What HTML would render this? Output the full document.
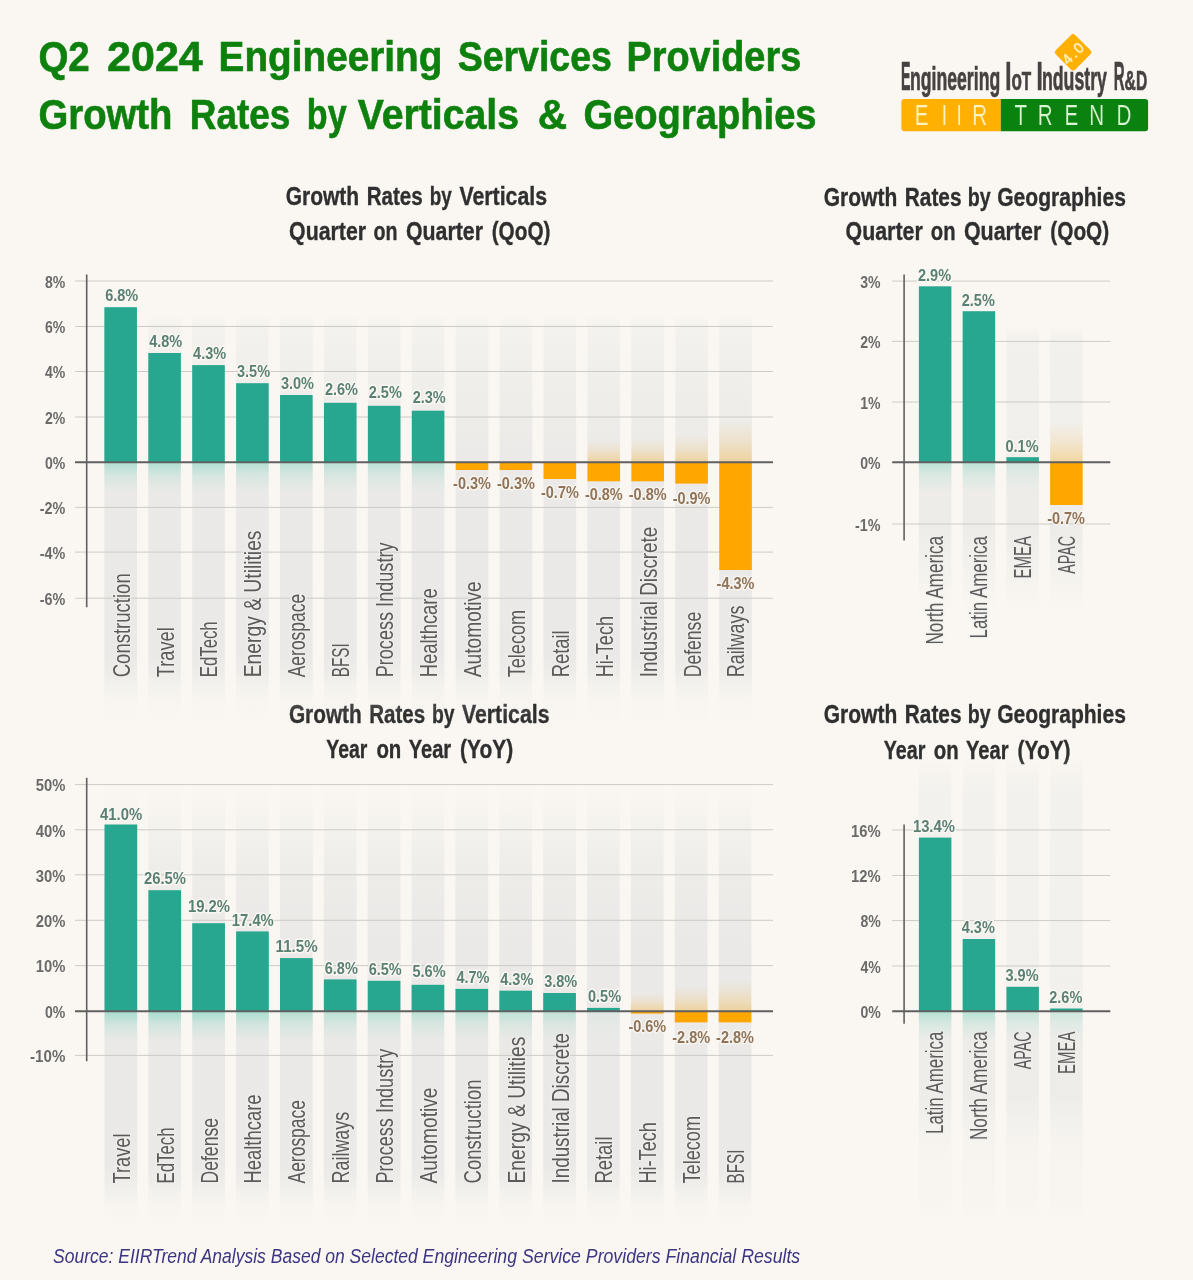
<!DOCTYPE html>
<html lang="en"><head><meta charset="utf-8"><title>Q2 2024 Engineering Services Providers Growth Rates</title>
<style>
html,body{margin:0;padding:0;background:#faf7f2;}
body{width:1193px;height:1280px;overflow:hidden;}
svg{display:block;}
text{font-family:"Liberation Sans",sans-serif;}
.tk{font-size:16px;font-weight:bold;fill:#6a6a6a;}
.vp{font-size:16px;font-weight:bold;fill:#598074;paint-order:stroke;stroke:#faf7f2;stroke-width:3px;stroke-linejoin:round;}
.vn{font-size:16px;font-weight:bold;fill:#917357;paint-order:stroke;stroke:#faf7f2;stroke-width:3px;stroke-linejoin:round;stroke-opacity:.75;}
.ct{font-size:23.7px;fill:#5a5a5a;paint-order:stroke;stroke:#efedea;stroke-width:3px;stroke-linejoin:round;stroke-opacity:.8;}
.ct2{font-size:23px;}
.ti{font-size:25px;font-weight:bold;fill:#2f2f2f;stroke:#2f2f2f;stroke-width:.35px;}
.h1{font-size:42px;font-weight:bold;fill:#0e800e;stroke:#0e800e;stroke-width:.6px;}
.src{font-size:19.5px;font-style:italic;fill:#3b3583;}
</style></head><body>
<svg width="1193" height="1280" viewBox="0 0 1193 1280">
<rect width="1193" height="1280" fill="#faf7f2"/>
<text class="h1" y="70.6"><tspan x="38.4" textLength="51.4" lengthAdjust="spacingAndGlyphs">Q2</tspan> <tspan x="107.0" textLength="95.8" lengthAdjust="spacingAndGlyphs">2024</tspan> <tspan x="218.6" textLength="223.8" lengthAdjust="spacingAndGlyphs">Engineering</tspan> <tspan x="457.7" textLength="154.2" lengthAdjust="spacingAndGlyphs">Services</tspan> <tspan x="626.5" textLength="174.7" lengthAdjust="spacingAndGlyphs">Providers</tspan></text>
<text class="h1" y="129.2"><tspan x="38.5" textLength="133.9" lengthAdjust="spacingAndGlyphs">Growth</tspan> <tspan x="189.8" textLength="100.6" lengthAdjust="spacingAndGlyphs">Rates</tspan> <tspan x="306.8" textLength="39.8" lengthAdjust="spacingAndGlyphs">by</tspan> <tspan x="357.7" textLength="161.4" lengthAdjust="spacingAndGlyphs">Verticals</tspan> <tspan x="537.7" textLength="29.4" lengthAdjust="spacingAndGlyphs">&amp;</tspan> <tspan x="583.4" textLength="233.2" lengthAdjust="spacingAndGlyphs">Geographies</tspan></text>
<g id="logo">
<path d="M904.4 99H1000.8V131.3H904.4a3 3 0 0 1-3-3V102a3 3 0 0 1 3-3z" fill="#ffb000"/>
<path d="M1000.8 99H1145.1a3 3 0 0 1 3 3V128.3a3 3 0 0 1-3 3H1000.8z" fill="#0b820f"/>
<text transform="scale(0.72 1)" x="1270.6 1307.6 1328.2 1350.4" y="125.1" font-size="28.6" fill="#fff3c4" stroke="#ffb000" stroke-width="0.2">EIIR</text>
<text transform="scale(0.72 1)" x="1409.2 1441.5 1478.5 1512.8 1550.7" y="125.1" font-size="28.6" fill="#d9f5d2" stroke="#0b820f" stroke-width="0.2">TREND</text>
<text y="89.6" font-size="40" font-weight="bold" fill="#464242" stroke="#464242" stroke-width="0.7"><tspan x="900.9" textLength="9.5" lengthAdjust="spacingAndGlyphs">E</tspan><tspan x="910" font-size="33.5" textLength="90.2" lengthAdjust="spacingAndGlyphs">ngineering</tspan> <tspan x="1005.2" textLength="6.2" lengthAdjust="spacingAndGlyphs">I</tspan><tspan x="1011.4" font-size="29" textLength="10.4" lengthAdjust="spacingAndGlyphs">o</tspan><tspan x="1021.7" font-size="25.3" textLength="9.4" lengthAdjust="spacingAndGlyphs">T</tspan> <tspan x="1036.6" textLength="6.2" lengthAdjust="spacingAndGlyphs">I</tspan><tspan x="1042" font-size="33.5" textLength="64.9" lengthAdjust="spacingAndGlyphs">ndustry</tspan> <tspan x="1113.7" textLength="10.9" lengthAdjust="spacingAndGlyphs">R</tspan><tspan x="1124.6" font-size="27.2" textLength="22.6" lengthAdjust="spacingAndGlyphs">&amp;D</tspan></text>
<rect x="-13.7" y="-13.7" width="27.4" height="27.4" rx="3.2" transform="translate(1073.1 52.3) rotate(45)" fill="#ffb000"/>
<text transform="translate(1076.6 57) rotate(-45)" text-anchor="middle" font-size="14.5" fill="#fff0c0" stroke="#fff0c0" stroke-width="0.5" textLength="24" lengthAdjust="spacing">4.0</text>
</g>
<text class="ti" y="205.3"><tspan x="285.7" textLength="73.5" lengthAdjust="spacingAndGlyphs">Growth</tspan> <tspan x="366.7" textLength="56.0" lengthAdjust="spacingAndGlyphs">Rates</tspan> <tspan x="429.8" textLength="22.0" lengthAdjust="spacingAndGlyphs">by</tspan> <tspan x="459.4" textLength="87.6" lengthAdjust="spacingAndGlyphs">Verticals</tspan></text>
<text class="ti" y="240"><tspan x="289.1" textLength="77.0" lengthAdjust="spacingAndGlyphs">Quarter</tspan> <tspan x="373.6" textLength="24.0" lengthAdjust="spacingAndGlyphs">on</tspan> <tspan x="406.0" textLength="77.0" lengthAdjust="spacingAndGlyphs">Quarter</tspan> <tspan x="491.7" textLength="58.8" lengthAdjust="spacingAndGlyphs">(QoQ)</tspan></text>
<text class="ti" y="723.2"><tspan x="288.9" textLength="72.9" lengthAdjust="spacingAndGlyphs">Growth</tspan> <tspan x="369.2" textLength="56.0" lengthAdjust="spacingAndGlyphs">Rates</tspan> <tspan x="431.9" textLength="22.6" lengthAdjust="spacingAndGlyphs">by</tspan> <tspan x="461.9" textLength="87.6" lengthAdjust="spacingAndGlyphs">Verticals</tspan></text>
<text class="ti" y="758.4"><tspan x="326.3" textLength="41.1" lengthAdjust="spacingAndGlyphs">Year</tspan> <tspan x="376.4" textLength="24.9" lengthAdjust="spacingAndGlyphs">on</tspan> <tspan x="408.7" textLength="42.5" lengthAdjust="spacingAndGlyphs">Year</tspan> <tspan x="460.1" textLength="53.0" lengthAdjust="spacingAndGlyphs">(YoY)</tspan></text>
<text class="ti" y="205.6"><tspan x="823.8" textLength="73.4" lengthAdjust="spacingAndGlyphs">Growth</tspan> <tspan x="904.8" textLength="56.7" lengthAdjust="spacingAndGlyphs">Rates</tspan> <tspan x="967.8" textLength="22.9" lengthAdjust="spacingAndGlyphs">by</tspan> <tspan x="997.2" textLength="128.7" lengthAdjust="spacingAndGlyphs">Geographies</tspan></text>
<text class="ti" y="240.3"><tspan x="845.6" textLength="77.1" lengthAdjust="spacingAndGlyphs">Quarter</tspan> <tspan x="930.8" textLength="24.7" lengthAdjust="spacingAndGlyphs">on</tspan> <tspan x="963.9" textLength="77.4" lengthAdjust="spacingAndGlyphs">Quarter</tspan> <tspan x="1050.3" textLength="58.9" lengthAdjust="spacingAndGlyphs">(QoQ)</tspan></text>
<text class="ti" y="723.2"><tspan x="823.8" textLength="73.4" lengthAdjust="spacingAndGlyphs">Growth</tspan> <tspan x="904.8" textLength="56.7" lengthAdjust="spacingAndGlyphs">Rates</tspan> <tspan x="967.8" textLength="22.9" lengthAdjust="spacingAndGlyphs">by</tspan> <tspan x="997.2" textLength="128.7" lengthAdjust="spacingAndGlyphs">Geographies</tspan></text>
<text class="ti" y="758.5"><tspan x="883.8" textLength="41.6" lengthAdjust="spacingAndGlyphs">Year</tspan> <tspan x="933.8" textLength="24.9" lengthAdjust="spacingAndGlyphs">on</tspan> <tspan x="966.0" textLength="42.5" lengthAdjust="spacingAndGlyphs">Year</tspan> <tspan x="1017.6" textLength="52.9" lengthAdjust="spacingAndGlyphs">(YoY)</tspan></text>
<g id="tl">
<linearGradient id="sgtl" gradientUnits="userSpaceOnUse" x1="0" y1="316" x2="0" y2="722"><stop offset="0.0000" stop-color="#e9e8e6" stop-opacity="0"/><stop offset="0.0197" stop-color="#e9e8e6" stop-opacity="0.3"/><stop offset="0.0714" stop-color="#e9e8e6" stop-opacity="0.45"/><stop offset="0.2069" stop-color="#e9e8e6" stop-opacity="0.65"/><stop offset="0.3596" stop-color="#e9e8e6" stop-opacity="0.9"/><stop offset="0.8350" stop-color="#e9e8e6" stop-opacity="0.92"/><stop offset="0.8768" stop-color="#e9e8e6" stop-opacity="0.7"/><stop offset="0.9089" stop-color="#e9e8e6" stop-opacity="0.38"/><stop offset="0.9458" stop-color="#e9e8e6" stop-opacity="0.16"/><stop offset="1.0000" stop-color="#e9e8e6" stop-opacity="0"/></linearGradient>
<rect x="104.35" y="316" width="32.6" height="406" fill="url(#sgtl)"/>
<rect x="148.27" y="316" width="32.6" height="406" fill="url(#sgtl)"/>
<rect x="192.19" y="316" width="32.6" height="406" fill="url(#sgtl)"/>
<rect x="236.11" y="316" width="32.6" height="406" fill="url(#sgtl)"/>
<rect x="280.03" y="316" width="32.6" height="406" fill="url(#sgtl)"/>
<rect x="323.95" y="316" width="32.6" height="406" fill="url(#sgtl)"/>
<rect x="367.87" y="316" width="32.6" height="406" fill="url(#sgtl)"/>
<rect x="411.79" y="316" width="32.6" height="406" fill="url(#sgtl)"/>
<rect x="455.71" y="316" width="32.6" height="406" fill="url(#sgtl)"/>
<rect x="499.63" y="316" width="32.6" height="406" fill="url(#sgtl)"/>
<rect x="543.55" y="316" width="32.6" height="406" fill="url(#sgtl)"/>
<rect x="587.47" y="316" width="32.6" height="406" fill="url(#sgtl)"/>
<rect x="631.39" y="316" width="32.6" height="406" fill="url(#sgtl)"/>
<rect x="675.31" y="316" width="32.6" height="406" fill="url(#sgtl)"/>
<rect x="719.23" y="316" width="32.6" height="406" fill="url(#sgtl)"/>
<line x1="75" x2="773" y1="281" y2="281" stroke="#cdcbc7" stroke-width="1"/>
<line x1="75" x2="773" y1="326.5" y2="326.5" stroke="#cdcbc7" stroke-width="1"/>
<line x1="75" x2="773" y1="371.5" y2="371.5" stroke="#cdcbc7" stroke-width="1"/>
<line x1="75" x2="773" y1="417" y2="417" stroke="#cdcbc7" stroke-width="1"/>
<line x1="75" x2="773" y1="507.4" y2="507.4" stroke="#cdcbc7" stroke-width="1"/>
<line x1="75" x2="773" y1="552.1" y2="552.1" stroke="#cdcbc7" stroke-width="1"/>
<line x1="75" x2="773" y1="598.2" y2="598.2" stroke="#cdcbc7" stroke-width="1"/>
<linearGradient id="rgtlp0" gradientUnits="userSpaceOnUse" x1="0" y1="462.2" x2="0" y2="492.2"><stop offset="0" stop-color="#5fd0b6" stop-opacity="0.420"/><stop offset="0.45" stop-color="#5fd0b6" stop-opacity="0.147"/><stop offset="1" stop-color="#5fd0b6" stop-opacity="0"/></linearGradient>
<rect x="104.35" y="462.2" width="32.6" height="30" fill="url(#rgtlp0)"/>
<linearGradient id="rgtlp1" gradientUnits="userSpaceOnUse" x1="0" y1="462.2" x2="0" y2="492.2"><stop offset="0" stop-color="#5fd0b6" stop-opacity="0.420"/><stop offset="0.45" stop-color="#5fd0b6" stop-opacity="0.147"/><stop offset="1" stop-color="#5fd0b6" stop-opacity="0"/></linearGradient>
<rect x="148.27" y="462.2" width="32.6" height="30" fill="url(#rgtlp1)"/>
<linearGradient id="rgtlp2" gradientUnits="userSpaceOnUse" x1="0" y1="462.2" x2="0" y2="492.2"><stop offset="0" stop-color="#5fd0b6" stop-opacity="0.420"/><stop offset="0.45" stop-color="#5fd0b6" stop-opacity="0.147"/><stop offset="1" stop-color="#5fd0b6" stop-opacity="0"/></linearGradient>
<rect x="192.19" y="462.2" width="32.6" height="30" fill="url(#rgtlp2)"/>
<linearGradient id="rgtlp3" gradientUnits="userSpaceOnUse" x1="0" y1="462.2" x2="0" y2="492.2"><stop offset="0" stop-color="#5fd0b6" stop-opacity="0.397"/><stop offset="0.45" stop-color="#5fd0b6" stop-opacity="0.139"/><stop offset="1" stop-color="#5fd0b6" stop-opacity="0"/></linearGradient>
<rect x="236.11" y="462.2" width="32.6" height="30" fill="url(#rgtlp3)"/>
<linearGradient id="rgtlp4" gradientUnits="userSpaceOnUse" x1="0" y1="462.2" x2="0" y2="492.2"><stop offset="0" stop-color="#5fd0b6" stop-opacity="0.372"/><stop offset="0.45" stop-color="#5fd0b6" stop-opacity="0.130"/><stop offset="1" stop-color="#5fd0b6" stop-opacity="0"/></linearGradient>
<rect x="280.03" y="462.2" width="32.6" height="30" fill="url(#rgtlp4)"/>
<linearGradient id="rgtlp5" gradientUnits="userSpaceOnUse" x1="0" y1="462.2" x2="0" y2="492.2"><stop offset="0" stop-color="#5fd0b6" stop-opacity="0.356"/><stop offset="0.45" stop-color="#5fd0b6" stop-opacity="0.125"/><stop offset="1" stop-color="#5fd0b6" stop-opacity="0"/></linearGradient>
<rect x="323.95" y="462.2" width="32.6" height="30" fill="url(#rgtlp5)"/>
<linearGradient id="rgtlp6" gradientUnits="userSpaceOnUse" x1="0" y1="462.2" x2="0" y2="492.2"><stop offset="0" stop-color="#5fd0b6" stop-opacity="0.349"/><stop offset="0.45" stop-color="#5fd0b6" stop-opacity="0.122"/><stop offset="1" stop-color="#5fd0b6" stop-opacity="0"/></linearGradient>
<rect x="367.87" y="462.2" width="32.6" height="30" fill="url(#rgtlp6)"/>
<linearGradient id="rgtlp7" gradientUnits="userSpaceOnUse" x1="0" y1="462.2" x2="0" y2="492.2"><stop offset="0" stop-color="#5fd0b6" stop-opacity="0.339"/><stop offset="0.45" stop-color="#5fd0b6" stop-opacity="0.119"/><stop offset="1" stop-color="#5fd0b6" stop-opacity="0"/></linearGradient>
<rect x="411.79" y="462.2" width="32.6" height="30" fill="url(#rgtlp7)"/>
<linearGradient id="rgtln11" gradientUnits="userSpaceOnUse" x1="0" y1="462.2" x2="0" y2="440.2"><stop offset="0" stop-color="#f3b23a" stop-opacity="0.42"/><stop offset="0.5" stop-color="#f3b23a" stop-opacity="0.16"/><stop offset="1" stop-color="#f3b23a" stop-opacity="0"/></linearGradient>
<rect x="587.47" y="440.2" width="32.6" height="22" fill="url(#rgtln11)"/>
<linearGradient id="rgtln12" gradientUnits="userSpaceOnUse" x1="0" y1="462.2" x2="0" y2="438.2"><stop offset="0" stop-color="#f3b23a" stop-opacity="0.42"/><stop offset="0.5" stop-color="#f3b23a" stop-opacity="0.16"/><stop offset="1" stop-color="#f3b23a" stop-opacity="0"/></linearGradient>
<rect x="631.39" y="438.2" width="32.6" height="24" fill="url(#rgtln12)"/>
<linearGradient id="rgtln13" gradientUnits="userSpaceOnUse" x1="0" y1="462.2" x2="0" y2="435.2"><stop offset="0" stop-color="#f3b23a" stop-opacity="0.42"/><stop offset="0.5" stop-color="#f3b23a" stop-opacity="0.16"/><stop offset="1" stop-color="#f3b23a" stop-opacity="0"/></linearGradient>
<rect x="675.31" y="435.2" width="32.6" height="27" fill="url(#rgtln13)"/>
<linearGradient id="rgtln14" gradientUnits="userSpaceOnUse" x1="0" y1="462.2" x2="0" y2="420.2"><stop offset="0" stop-color="#f3b23a" stop-opacity="0.42"/><stop offset="0.5" stop-color="#f3b23a" stop-opacity="0.16"/><stop offset="1" stop-color="#f3b23a" stop-opacity="0"/></linearGradient>
<rect x="719.23" y="420.2" width="32.6" height="42" fill="url(#rgtln14)"/>
<rect x="104.35" y="307.2" width="32.6" height="155.00" fill="#27a78f"/>
<rect x="148.27" y="353.0" width="32.6" height="109.20" fill="#27a78f"/>
<rect x="192.19" y="365.1" width="32.6" height="97.10" fill="#27a78f"/>
<rect x="236.11" y="383.2" width="32.6" height="79.00" fill="#27a78f"/>
<rect x="280.03" y="395" width="32.6" height="67.20" fill="#27a78f"/>
<rect x="323.95" y="402.8" width="32.6" height="59.40" fill="#27a78f"/>
<rect x="367.87" y="405.8" width="32.6" height="56.40" fill="#27a78f"/>
<rect x="411.79" y="410.7" width="32.6" height="51.50" fill="#27a78f"/>
<rect x="455.71" y="462.2" width="32.6" height="7.80" fill="#ffa600"/>
<rect x="499.63" y="462.2" width="32.6" height="7.80" fill="#ffa600"/>
<rect x="543.55" y="462.2" width="32.6" height="16.80" fill="#ffa600"/>
<rect x="587.47" y="462.2" width="32.6" height="19.10" fill="#ffa600"/>
<rect x="631.39" y="462.2" width="32.6" height="19.10" fill="#ffa600"/>
<rect x="675.31" y="462.2" width="32.6" height="21.40" fill="#ffa600"/>
<rect x="719.23" y="462.2" width="32.6" height="107.80" fill="#ffa600"/>
<line x1="86.7" x2="86.7" y1="274.5" y2="607.3" stroke="#606060" stroke-width="1.6"/>
<line x1="75" x2="773" y1="462.2" y2="462.2" stroke="#606060" stroke-width="1.9"/>
<text class="tk" x="65.2" y="287.7" text-anchor="end" textLength="20.3" lengthAdjust="spacingAndGlyphs">8%</text>
<text class="tk" x="65.2" y="333.2" text-anchor="end" textLength="20.3" lengthAdjust="spacingAndGlyphs">6%</text>
<text class="tk" x="65.2" y="378.2" text-anchor="end" textLength="20.3" lengthAdjust="spacingAndGlyphs">4%</text>
<text class="tk" x="65.2" y="423.7" text-anchor="end" textLength="20.3" lengthAdjust="spacingAndGlyphs">2%</text>
<text class="tk" x="65.2" y="468.9" text-anchor="end" textLength="20.3" lengthAdjust="spacingAndGlyphs">0%</text>
<text class="tk" x="65.2" y="514.1" text-anchor="end" textLength="25.5" lengthAdjust="spacingAndGlyphs">-2%</text>
<text class="tk" x="65.2" y="558.8" text-anchor="end" textLength="25.5" lengthAdjust="spacingAndGlyphs">-4%</text>
<text class="tk" x="65.2" y="604.9" text-anchor="end" textLength="25.5" lengthAdjust="spacingAndGlyphs">-6%</text>
<text class="vp" x="121.7" y="301.1" text-anchor="middle" textLength="33" lengthAdjust="spacingAndGlyphs">6.8%</text>
<text class="vp" x="165.7" y="346.9" text-anchor="middle" textLength="33" lengthAdjust="spacingAndGlyphs">4.8%</text>
<text class="vp" x="209.6" y="359.0" text-anchor="middle" textLength="33" lengthAdjust="spacingAndGlyphs">4.3%</text>
<text class="vp" x="253.5" y="377.1" text-anchor="middle" textLength="33" lengthAdjust="spacingAndGlyphs">3.5%</text>
<text class="vp" x="297.4" y="388.9" text-anchor="middle" textLength="33" lengthAdjust="spacingAndGlyphs">3.0%</text>
<text class="vp" x="341.4" y="394.6" text-anchor="middle" textLength="33" lengthAdjust="spacingAndGlyphs">2.6%</text>
<text class="vp" x="385.3" y="397.8" text-anchor="middle" textLength="33" lengthAdjust="spacingAndGlyphs">2.5%</text>
<text class="vp" x="429.2" y="402.5" text-anchor="middle" textLength="33" lengthAdjust="spacingAndGlyphs">2.3%</text>
<text class="vn" x="472.0" y="488.5" text-anchor="middle" textLength="37.8" lengthAdjust="spacingAndGlyphs">-0.3%</text>
<text class="vn" x="515.9" y="488.5" text-anchor="middle" textLength="37.8" lengthAdjust="spacingAndGlyphs">-0.3%</text>
<text class="vn" x="559.9" y="497.5" text-anchor="middle" textLength="37.8" lengthAdjust="spacingAndGlyphs">-0.7%</text>
<text class="vn" x="603.8" y="499.8" text-anchor="middle" textLength="37.8" lengthAdjust="spacingAndGlyphs">-0.8%</text>
<text class="vn" x="647.7" y="499.8" text-anchor="middle" textLength="37.8" lengthAdjust="spacingAndGlyphs">-0.8%</text>
<text class="vn" x="691.6" y="503.8" text-anchor="middle" textLength="37.8" lengthAdjust="spacingAndGlyphs">-0.9%</text>
<text class="vn" x="735.5" y="588.5" text-anchor="middle" textLength="37.8" lengthAdjust="spacingAndGlyphs">-4.3%</text>
<text class="ct" transform="translate(129.5 677.3) rotate(-90)" text-anchor="start" textLength="104" lengthAdjust="spacingAndGlyphs">Construction</text>
<text class="ct" transform="translate(173.5 677.3) rotate(-90)" text-anchor="start" textLength="50" lengthAdjust="spacingAndGlyphs">Travel</text>
<text class="ct" transform="translate(217.4 677.3) rotate(-90)" text-anchor="start" textLength="56" lengthAdjust="spacingAndGlyphs">EdTech</text>
<text class="ct" transform="translate(261.3 677.3) rotate(-90)" text-anchor="start" textLength="146.8" lengthAdjust="spacingAndGlyphs">Energy &amp; Utilities</text>
<text class="ct" transform="translate(305.2 677.3) rotate(-90)" text-anchor="start" textLength="83.5" lengthAdjust="spacingAndGlyphs">Aerospace</text>
<text class="ct" transform="translate(349.2 677.3) rotate(-90)" text-anchor="start" textLength="34" lengthAdjust="spacingAndGlyphs">BFSI</text>
<text class="ct" transform="translate(393.1 677.3) rotate(-90)" text-anchor="start" textLength="134.8" lengthAdjust="spacingAndGlyphs">Process Industry</text>
<text class="ct" transform="translate(437.0 677.3) rotate(-90)" text-anchor="start" textLength="89" lengthAdjust="spacingAndGlyphs">Healthcare</text>
<text class="ct" transform="translate(480.9 677.3) rotate(-90)" text-anchor="start" textLength="96" lengthAdjust="spacingAndGlyphs">Automotive</text>
<text class="ct" transform="translate(524.8 677.3) rotate(-90)" text-anchor="start" textLength="67.5" lengthAdjust="spacingAndGlyphs">Telecom</text>
<text class="ct" transform="translate(568.8 677.3) rotate(-90)" text-anchor="start" textLength="47" lengthAdjust="spacingAndGlyphs">Retail</text>
<text class="ct" transform="translate(612.7 677.3) rotate(-90)" text-anchor="start" textLength="61.3" lengthAdjust="spacingAndGlyphs">Hi-Tech</text>
<text class="ct" transform="translate(656.6 677.3) rotate(-90)" text-anchor="start" textLength="150.5" lengthAdjust="spacingAndGlyphs">Industrial Discrete</text>
<text class="ct" transform="translate(700.5 677.3) rotate(-90)" text-anchor="start" textLength="65.5" lengthAdjust="spacingAndGlyphs">Defense</text>
<text class="ct" transform="translate(744.4 677.3) rotate(-90)" text-anchor="start" textLength="71.8" lengthAdjust="spacingAndGlyphs">Railways</text>
</g>
<g id="bl">
<linearGradient id="sgbl" gradientUnits="userSpaceOnUse" x1="0" y1="788" x2="0" y2="1224"><stop offset="0.0000" stop-color="#e9e8e6" stop-opacity="0"/><stop offset="0.0619" stop-color="#e9e8e6" stop-opacity="0.25"/><stop offset="0.1651" stop-color="#e9e8e6" stop-opacity="0.6"/><stop offset="0.2569" stop-color="#e9e8e6" stop-opacity="0.82"/><stop offset="0.3716" stop-color="#e9e8e6" stop-opacity="0.92"/><stop offset="0.8647" stop-color="#e9e8e6" stop-opacity="0.92"/><stop offset="0.8991" stop-color="#e9e8e6" stop-opacity="0.7"/><stop offset="0.9289" stop-color="#e9e8e6" stop-opacity="0.38"/><stop offset="0.9587" stop-color="#e9e8e6" stop-opacity="0.16"/><stop offset="1.0000" stop-color="#e9e8e6" stop-opacity="0"/></linearGradient>
<rect x="104.50" y="788" width="32.7" height="436" fill="url(#sgbl)"/>
<rect x="148.37" y="788" width="32.7" height="436" fill="url(#sgbl)"/>
<rect x="192.24" y="788" width="32.7" height="436" fill="url(#sgbl)"/>
<rect x="236.11" y="788" width="32.7" height="436" fill="url(#sgbl)"/>
<rect x="279.98" y="788" width="32.7" height="436" fill="url(#sgbl)"/>
<rect x="323.85" y="788" width="32.7" height="436" fill="url(#sgbl)"/>
<rect x="367.72" y="788" width="32.7" height="436" fill="url(#sgbl)"/>
<rect x="411.59" y="788" width="32.7" height="436" fill="url(#sgbl)"/>
<rect x="455.46" y="788" width="32.7" height="436" fill="url(#sgbl)"/>
<rect x="499.33" y="788" width="32.7" height="436" fill="url(#sgbl)"/>
<rect x="543.20" y="788" width="32.7" height="436" fill="url(#sgbl)"/>
<rect x="587.07" y="788" width="32.7" height="436" fill="url(#sgbl)"/>
<rect x="630.94" y="788" width="32.7" height="436" fill="url(#sgbl)"/>
<rect x="674.81" y="788" width="32.7" height="436" fill="url(#sgbl)"/>
<rect x="718.68" y="788" width="32.7" height="436" fill="url(#sgbl)"/>
<line x1="75" x2="773" y1="784.6" y2="784.6" stroke="#cdcbc7" stroke-width="1"/>
<line x1="75" x2="773" y1="829.8" y2="829.8" stroke="#cdcbc7" stroke-width="1"/>
<line x1="75" x2="773" y1="874.8" y2="874.8" stroke="#cdcbc7" stroke-width="1"/>
<line x1="75" x2="773" y1="920.3" y2="920.3" stroke="#cdcbc7" stroke-width="1"/>
<line x1="75" x2="773" y1="965.6" y2="965.6" stroke="#cdcbc7" stroke-width="1"/>
<line x1="75" x2="773" y1="1055.4" y2="1055.4" stroke="#cdcbc7" stroke-width="1"/>
<linearGradient id="rgblp0" gradientUnits="userSpaceOnUse" x1="0" y1="1011.2" x2="0" y2="1041.2"><stop offset="0" stop-color="#5fd0b6" stop-opacity="0.500"/><stop offset="0.45" stop-color="#5fd0b6" stop-opacity="0.175"/><stop offset="1" stop-color="#5fd0b6" stop-opacity="0"/></linearGradient>
<rect x="104.50" y="1011.2" width="32.7" height="30" fill="url(#rgblp0)"/>
<linearGradient id="rgblp1" gradientUnits="userSpaceOnUse" x1="0" y1="1011.2" x2="0" y2="1041.2"><stop offset="0" stop-color="#5fd0b6" stop-opacity="0.500"/><stop offset="0.45" stop-color="#5fd0b6" stop-opacity="0.175"/><stop offset="1" stop-color="#5fd0b6" stop-opacity="0"/></linearGradient>
<rect x="148.37" y="1011.2" width="32.7" height="30" fill="url(#rgblp1)"/>
<linearGradient id="rgblp2" gradientUnits="userSpaceOnUse" x1="0" y1="1011.2" x2="0" y2="1041.2"><stop offset="0" stop-color="#5fd0b6" stop-opacity="0.495"/><stop offset="0.45" stop-color="#5fd0b6" stop-opacity="0.173"/><stop offset="1" stop-color="#5fd0b6" stop-opacity="0"/></linearGradient>
<rect x="192.24" y="1011.2" width="32.7" height="30" fill="url(#rgblp2)"/>
<linearGradient id="rgblp3" gradientUnits="userSpaceOnUse" x1="0" y1="1011.2" x2="0" y2="1041.2"><stop offset="0" stop-color="#5fd0b6" stop-opacity="0.475"/><stop offset="0.45" stop-color="#5fd0b6" stop-opacity="0.166"/><stop offset="1" stop-color="#5fd0b6" stop-opacity="0"/></linearGradient>
<rect x="236.11" y="1011.2" width="32.7" height="30" fill="url(#rgblp3)"/>
<linearGradient id="rgblp4" gradientUnits="userSpaceOnUse" x1="0" y1="1011.2" x2="0" y2="1041.2"><stop offset="0" stop-color="#5fd0b6" stop-opacity="0.408"/><stop offset="0.45" stop-color="#5fd0b6" stop-opacity="0.143"/><stop offset="1" stop-color="#5fd0b6" stop-opacity="0"/></linearGradient>
<rect x="279.98" y="1011.2" width="32.7" height="30" fill="url(#rgblp4)"/>
<linearGradient id="rgblp5" gradientUnits="userSpaceOnUse" x1="0" y1="1011.2" x2="0" y2="1041.2"><stop offset="0" stop-color="#5fd0b6" stop-opacity="0.355"/><stop offset="0.45" stop-color="#5fd0b6" stop-opacity="0.124"/><stop offset="1" stop-color="#5fd0b6" stop-opacity="0"/></linearGradient>
<rect x="323.85" y="1011.2" width="32.7" height="30" fill="url(#rgblp5)"/>
<linearGradient id="rgblp6" gradientUnits="userSpaceOnUse" x1="0" y1="1011.2" x2="0" y2="1041.2"><stop offset="0" stop-color="#5fd0b6" stop-opacity="0.351"/><stop offset="0.45" stop-color="#5fd0b6" stop-opacity="0.123"/><stop offset="1" stop-color="#5fd0b6" stop-opacity="0"/></linearGradient>
<rect x="367.72" y="1011.2" width="32.7" height="30" fill="url(#rgblp6)"/>
<linearGradient id="rgblp7" gradientUnits="userSpaceOnUse" x1="0" y1="1011.2" x2="0" y2="1041.2"><stop offset="0" stop-color="#5fd0b6" stop-opacity="0.341"/><stop offset="0.45" stop-color="#5fd0b6" stop-opacity="0.119"/><stop offset="1" stop-color="#5fd0b6" stop-opacity="0"/></linearGradient>
<rect x="411.59" y="1011.2" width="32.7" height="30" fill="url(#rgblp7)"/>
<linearGradient id="rgblp8" gradientUnits="userSpaceOnUse" x1="0" y1="1011.2" x2="0" y2="1041.2"><stop offset="0" stop-color="#5fd0b6" stop-opacity="0.331"/><stop offset="0.45" stop-color="#5fd0b6" stop-opacity="0.116"/><stop offset="1" stop-color="#5fd0b6" stop-opacity="0"/></linearGradient>
<rect x="455.46" y="1011.2" width="32.7" height="30" fill="url(#rgblp8)"/>
<linearGradient id="rgblp9" gradientUnits="userSpaceOnUse" x1="0" y1="1011.2" x2="0" y2="1041.2"><stop offset="0" stop-color="#5fd0b6" stop-opacity="0.326"/><stop offset="0.45" stop-color="#5fd0b6" stop-opacity="0.114"/><stop offset="1" stop-color="#5fd0b6" stop-opacity="0"/></linearGradient>
<rect x="499.33" y="1011.2" width="32.7" height="30" fill="url(#rgblp9)"/>
<linearGradient id="rgblp10" gradientUnits="userSpaceOnUse" x1="0" y1="1011.2" x2="0" y2="1041.2"><stop offset="0" stop-color="#5fd0b6" stop-opacity="0.321"/><stop offset="0.45" stop-color="#5fd0b6" stop-opacity="0.112"/><stop offset="1" stop-color="#5fd0b6" stop-opacity="0"/></linearGradient>
<rect x="543.20" y="1011.2" width="32.7" height="30" fill="url(#rgblp10)"/>
<linearGradient id="rgblp11" gradientUnits="userSpaceOnUse" x1="0" y1="1011.2" x2="0" y2="1041.2"><stop offset="0" stop-color="#5fd0b6" stop-opacity="0.085"/><stop offset="0.45" stop-color="#5fd0b6" stop-opacity="0.030"/><stop offset="1" stop-color="#5fd0b6" stop-opacity="0"/></linearGradient>
<rect x="587.07" y="1011.2" width="32.7" height="30" fill="url(#rgblp11)"/>
<linearGradient id="rgbln12" gradientUnits="userSpaceOnUse" x1="0" y1="1011.2" x2="0" y2="993.2"><stop offset="0" stop-color="#f3b23a" stop-opacity="0.42"/><stop offset="0.5" stop-color="#f3b23a" stop-opacity="0.16"/><stop offset="1" stop-color="#f3b23a" stop-opacity="0"/></linearGradient>
<rect x="630.94" y="993.2" width="32.7" height="18" fill="url(#rgbln12)"/>
<linearGradient id="rgbln13" gradientUnits="userSpaceOnUse" x1="0" y1="1011.2" x2="0" y2="986.2"><stop offset="0" stop-color="#f3b23a" stop-opacity="0.42"/><stop offset="0.5" stop-color="#f3b23a" stop-opacity="0.16"/><stop offset="1" stop-color="#f3b23a" stop-opacity="0"/></linearGradient>
<rect x="674.81" y="986.2" width="32.7" height="25" fill="url(#rgbln13)"/>
<linearGradient id="rgbln14" gradientUnits="userSpaceOnUse" x1="0" y1="1011.2" x2="0" y2="979.2"><stop offset="0" stop-color="#f3b23a" stop-opacity="0.42"/><stop offset="0.5" stop-color="#f3b23a" stop-opacity="0.16"/><stop offset="1" stop-color="#f3b23a" stop-opacity="0"/></linearGradient>
<rect x="718.68" y="979.2" width="32.7" height="32" fill="url(#rgbln14)"/>
<rect x="104.50" y="824.5" width="32.7" height="186.70" fill="#27a78f"/>
<rect x="148.37" y="890.2" width="32.7" height="121.00" fill="#27a78f"/>
<rect x="192.24" y="923.2" width="32.7" height="88.00" fill="#27a78f"/>
<rect x="236.11" y="931.4" width="32.7" height="79.80" fill="#27a78f"/>
<rect x="279.98" y="958.1" width="32.7" height="53.10" fill="#27a78f"/>
<rect x="323.85" y="979.4" width="32.7" height="31.80" fill="#27a78f"/>
<rect x="367.72" y="980.8" width="32.7" height="30.40" fill="#27a78f"/>
<rect x="411.59" y="984.8" width="32.7" height="26.40" fill="#27a78f"/>
<rect x="455.46" y="988.9" width="32.7" height="22.30" fill="#27a78f"/>
<rect x="499.33" y="990.7" width="32.7" height="20.50" fill="#27a78f"/>
<rect x="543.20" y="993.0" width="32.7" height="18.20" fill="#27a78f"/>
<rect x="587.07" y="1007.9" width="32.7" height="3.30" fill="#27a78f"/>
<rect x="630.94" y="1011.2" width="32.7" height="2.40" fill="#ffa600"/>
<rect x="674.81" y="1011.2" width="32.7" height="11.20" fill="#ffa600"/>
<rect x="718.68" y="1011.2" width="32.7" height="11.20" fill="#ffa600"/>
<line x1="86.7" x2="86.7" y1="777.8" y2="1061.2" stroke="#606060" stroke-width="1.6"/>
<line x1="75" x2="773" y1="1011.2" y2="1011.2" stroke="#606060" stroke-width="1.9"/>
<text class="tk" x="65.3" y="791.3" text-anchor="end" textLength="29.6" lengthAdjust="spacingAndGlyphs">50%</text>
<text class="tk" x="65.3" y="836.5" text-anchor="end" textLength="29.6" lengthAdjust="spacingAndGlyphs">40%</text>
<text class="tk" x="65.3" y="881.5" text-anchor="end" textLength="29.6" lengthAdjust="spacingAndGlyphs">30%</text>
<text class="tk" x="65.3" y="927.0" text-anchor="end" textLength="29.6" lengthAdjust="spacingAndGlyphs">20%</text>
<text class="tk" x="65.3" y="972.3" text-anchor="end" textLength="29.6" lengthAdjust="spacingAndGlyphs">10%</text>
<text class="tk" x="65.3" y="1017.9" text-anchor="end" textLength="20.3" lengthAdjust="spacingAndGlyphs">0%</text>
<text class="tk" x="65.3" y="1062.1" text-anchor="end" textLength="35.2" lengthAdjust="spacingAndGlyphs">-10%</text>
<text class="vp" x="121.1" y="819.5" text-anchor="middle" textLength="42" lengthAdjust="spacingAndGlyphs">41.0%</text>
<text class="vp" x="165.0" y="883.7" text-anchor="middle" textLength="42" lengthAdjust="spacingAndGlyphs">26.5%</text>
<text class="vp" x="208.9" y="912.2" text-anchor="middle" textLength="42" lengthAdjust="spacingAndGlyphs">19.2%</text>
<text class="vp" x="252.8" y="926.4" text-anchor="middle" textLength="42" lengthAdjust="spacingAndGlyphs">17.4%</text>
<text class="vp" x="296.6" y="952.4" text-anchor="middle" textLength="42" lengthAdjust="spacingAndGlyphs">11.5%</text>
<text class="vp" x="341.3" y="973.7" text-anchor="middle" textLength="33" lengthAdjust="spacingAndGlyphs">6.8%</text>
<text class="vp" x="385.2" y="974.5" text-anchor="middle" textLength="33" lengthAdjust="spacingAndGlyphs">6.5%</text>
<text class="vp" x="429.0" y="976.5" text-anchor="middle" textLength="33" lengthAdjust="spacingAndGlyphs">5.6%</text>
<text class="vp" x="472.9" y="983.2" text-anchor="middle" textLength="33" lengthAdjust="spacingAndGlyphs">4.7%</text>
<text class="vp" x="516.8" y="985.0" text-anchor="middle" textLength="33" lengthAdjust="spacingAndGlyphs">4.3%</text>
<text class="vp" x="560.7" y="987.3" text-anchor="middle" textLength="33" lengthAdjust="spacingAndGlyphs">3.8%</text>
<text class="vp" x="604.5" y="1002.2" text-anchor="middle" textLength="33" lengthAdjust="spacingAndGlyphs">0.5%</text>
<text class="vn" x="647.3" y="1032.1" text-anchor="middle" textLength="37.8" lengthAdjust="spacingAndGlyphs">-0.6%</text>
<text class="vn" x="691.2" y="1042.6" text-anchor="middle" textLength="37.8" lengthAdjust="spacingAndGlyphs">-2.8%</text>
<text class="vn" x="735.0" y="1042.6" text-anchor="middle" textLength="37.8" lengthAdjust="spacingAndGlyphs">-2.8%</text>
<text class="ct" transform="translate(129.8 1183.5) rotate(-90)" text-anchor="start" textLength="50" lengthAdjust="spacingAndGlyphs">Travel</text>
<text class="ct" transform="translate(173.6 1183.5) rotate(-90)" text-anchor="start" textLength="56" lengthAdjust="spacingAndGlyphs">EdTech</text>
<text class="ct" transform="translate(217.5 1183.5) rotate(-90)" text-anchor="start" textLength="65.5" lengthAdjust="spacingAndGlyphs">Defense</text>
<text class="ct" transform="translate(261.4 1183.5) rotate(-90)" text-anchor="start" textLength="89" lengthAdjust="spacingAndGlyphs">Healthcare</text>
<text class="ct" transform="translate(305.2 1183.5) rotate(-90)" text-anchor="start" textLength="83.5" lengthAdjust="spacingAndGlyphs">Aerospace</text>
<text class="ct" transform="translate(349.1 1183.5) rotate(-90)" text-anchor="start" textLength="71.8" lengthAdjust="spacingAndGlyphs">Railways</text>
<text class="ct" transform="translate(393.0 1183.5) rotate(-90)" text-anchor="start" textLength="134.8" lengthAdjust="spacingAndGlyphs">Process Industry</text>
<text class="ct" transform="translate(436.8 1183.5) rotate(-90)" text-anchor="start" textLength="96" lengthAdjust="spacingAndGlyphs">Automotive</text>
<text class="ct" transform="translate(480.7 1183.5) rotate(-90)" text-anchor="start" textLength="104" lengthAdjust="spacingAndGlyphs">Construction</text>
<text class="ct" transform="translate(524.6 1183.5) rotate(-90)" text-anchor="start" textLength="146.8" lengthAdjust="spacingAndGlyphs">Energy &amp; Utilities</text>
<text class="ct" transform="translate(568.5 1183.5) rotate(-90)" text-anchor="start" textLength="150.5" lengthAdjust="spacingAndGlyphs">Industrial Discrete</text>
<text class="ct" transform="translate(612.3 1183.5) rotate(-90)" text-anchor="start" textLength="47" lengthAdjust="spacingAndGlyphs">Retail</text>
<text class="ct" transform="translate(656.2 1183.5) rotate(-90)" text-anchor="start" textLength="61.3" lengthAdjust="spacingAndGlyphs">Hi-Tech</text>
<text class="ct" transform="translate(700.1 1183.5) rotate(-90)" text-anchor="start" textLength="67.5" lengthAdjust="spacingAndGlyphs">Telecom</text>
<text class="ct" transform="translate(743.9 1183.5) rotate(-90)" text-anchor="start" textLength="34" lengthAdjust="spacingAndGlyphs">BFSI</text>
</g>
<g id="tr">
<linearGradient id="sgtr" gradientUnits="userSpaceOnUse" x1="0" y1="326" x2="0" y2="610"><stop offset="0.0000" stop-color="#e9e8e6" stop-opacity="0"/><stop offset="0.0352" stop-color="#e9e8e6" stop-opacity="0.35"/><stop offset="0.0915" stop-color="#e9e8e6" stop-opacity="0.45"/><stop offset="0.4754" stop-color="#e9e8e6" stop-opacity="0.5"/><stop offset="0.4824" stop-color="#e9e8e6" stop-opacity="0.72"/><stop offset="0.7183" stop-color="#e9e8e6" stop-opacity="0.72"/><stop offset="0.8415" stop-color="#e9e8e6" stop-opacity="0.38"/><stop offset="1.0000" stop-color="#e9e8e6" stop-opacity="0"/></linearGradient>
<rect x="918.90" y="326" width="32.5" height="284" fill="url(#sgtr)"/>
<rect x="962.65" y="326" width="32.5" height="284" fill="url(#sgtr)"/>
<rect x="1006.40" y="326" width="32.5" height="284" fill="url(#sgtr)"/>
<rect x="1050.15" y="326" width="32.5" height="284" fill="url(#sgtr)"/>
<line x1="892.2" x2="1110.3" y1="281.1" y2="281.1" stroke="#cdcbc7" stroke-width="1"/>
<line x1="892.2" x2="1110.3" y1="341.4" y2="341.4" stroke="#cdcbc7" stroke-width="1"/>
<line x1="892.2" x2="1110.3" y1="402" y2="402" stroke="#cdcbc7" stroke-width="1"/>
<line x1="892.2" x2="1110.3" y1="524" y2="524" stroke="#cdcbc7" stroke-width="1"/>
<linearGradient id="rgtrp0" gradientUnits="userSpaceOnUse" x1="0" y1="462.2" x2="0" y2="492.2"><stop offset="0" stop-color="#5fd0b6" stop-opacity="0.360"/><stop offset="0.45" stop-color="#5fd0b6" stop-opacity="0.126"/><stop offset="1" stop-color="#5fd0b6" stop-opacity="0"/></linearGradient>
<rect x="918.90" y="462.2" width="32.5" height="30" fill="url(#rgtrp0)"/>
<linearGradient id="rgtrp1" gradientUnits="userSpaceOnUse" x1="0" y1="462.2" x2="0" y2="492.2"><stop offset="0" stop-color="#5fd0b6" stop-opacity="0.360"/><stop offset="0.45" stop-color="#5fd0b6" stop-opacity="0.126"/><stop offset="1" stop-color="#5fd0b6" stop-opacity="0"/></linearGradient>
<rect x="962.65" y="462.2" width="32.5" height="30" fill="url(#rgtrp1)"/>
<linearGradient id="rgtrp2" gradientUnits="userSpaceOnUse" x1="0" y1="462.2" x2="0" y2="492.2"><stop offset="0" stop-color="#5fd0b6" stop-opacity="0.207"/><stop offset="0.45" stop-color="#5fd0b6" stop-opacity="0.072"/><stop offset="1" stop-color="#5fd0b6" stop-opacity="0"/></linearGradient>
<rect x="1006.40" y="462.2" width="32.5" height="30" fill="url(#rgtrp2)"/>
<linearGradient id="rgtrn3" gradientUnits="userSpaceOnUse" x1="0" y1="462.2" x2="0" y2="422.2"><stop offset="0" stop-color="#f3b23a" stop-opacity="0.42"/><stop offset="0.5" stop-color="#f3b23a" stop-opacity="0.16"/><stop offset="1" stop-color="#f3b23a" stop-opacity="0"/></linearGradient>
<rect x="1050.15" y="422.2" width="32.5" height="40" fill="url(#rgtrn3)"/>
<rect x="918.90" y="286.3" width="32.5" height="175.90" fill="#27a78f"/>
<rect x="962.65" y="311.2" width="32.5" height="151.00" fill="#27a78f"/>
<rect x="1006.40" y="457.2" width="32.5" height="5.00" fill="#27a78f"/>
<rect x="1050.15" y="462.2" width="32.5" height="42.80" fill="#ffa600"/>
<line x1="904.1" x2="904.1" y1="274.5" y2="540.5" stroke="#606060" stroke-width="1.6"/>
<line x1="892.2" x2="1110.3" y1="462.2" y2="462.2" stroke="#606060" stroke-width="1.9"/>
<text class="tk" x="880.6" y="287.8" text-anchor="end" textLength="20.3" lengthAdjust="spacingAndGlyphs">3%</text>
<text class="tk" x="880.6" y="348.1" text-anchor="end" textLength="20.3" lengthAdjust="spacingAndGlyphs">2%</text>
<text class="tk" x="880.6" y="408.7" text-anchor="end" textLength="20.3" lengthAdjust="spacingAndGlyphs">1%</text>
<text class="tk" x="880.6" y="468.9" text-anchor="end" textLength="20.3" lengthAdjust="spacingAndGlyphs">0%</text>
<text class="tk" x="880.6" y="530.7" text-anchor="end" textLength="25.5" lengthAdjust="spacingAndGlyphs">-1%</text>
<text class="vp" x="934.5" y="280.7" text-anchor="middle" textLength="33" lengthAdjust="spacingAndGlyphs">2.9%</text>
<text class="vp" x="978.3" y="305.6" text-anchor="middle" textLength="33" lengthAdjust="spacingAndGlyphs">2.5%</text>
<text class="vp" x="1022.0" y="451.6" text-anchor="middle" textLength="33" lengthAdjust="spacingAndGlyphs">0.1%</text>
<text class="vn" x="1066.1" y="523.5" text-anchor="middle" textLength="37.8" lengthAdjust="spacingAndGlyphs">-0.7%</text>
<text class="ct ct2" transform="translate(943.4 536) rotate(-90)" text-anchor="end" textLength="108.5" lengthAdjust="spacingAndGlyphs">North America</text>
<text class="ct ct2" transform="translate(987.2 536) rotate(-90)" text-anchor="end" textLength="102.5" lengthAdjust="spacingAndGlyphs">Latin America</text>
<text class="ct ct2" transform="translate(1031.0 536) rotate(-90)" text-anchor="end" textLength="42.5" lengthAdjust="spacingAndGlyphs">EMEA</text>
<text class="ct ct2" transform="translate(1074.7 536) rotate(-90)" text-anchor="end" textLength="37.7" lengthAdjust="spacingAndGlyphs">APAC</text>
</g>
<g id="br">
<linearGradient id="sgbr" gradientUnits="userSpaceOnUse" x1="0" y1="756" x2="0" y2="1222"><stop offset="0.0000" stop-color="#e9e8e6" stop-opacity="0"/><stop offset="0.0408" stop-color="#e9e8e6" stop-opacity="0.25"/><stop offset="0.0944" stop-color="#e9e8e6" stop-opacity="0.4"/><stop offset="0.5451" stop-color="#e9e8e6" stop-opacity="0.45"/><stop offset="0.5494" stop-color="#e9e8e6" stop-opacity="0.7"/><stop offset="0.7275" stop-color="#e9e8e6" stop-opacity="0.7"/><stop offset="0.8026" stop-color="#e9e8e6" stop-opacity="0.32"/><stop offset="0.8455" stop-color="#e9e8e6" stop-opacity="0.18"/><stop offset="0.9528" stop-color="#e9e8e6" stop-opacity="0.13"/><stop offset="1.0000" stop-color="#e9e8e6" stop-opacity="0"/></linearGradient>
<rect x="918.90" y="756" width="32.5" height="466" fill="url(#sgbr)"/>
<rect x="962.65" y="756" width="32.5" height="466" fill="url(#sgbr)"/>
<rect x="1006.40" y="756" width="32.5" height="466" fill="url(#sgbr)"/>
<rect x="1050.15" y="756" width="32.5" height="466" fill="url(#sgbr)"/>
<line x1="892.2" x2="1110.3" y1="830" y2="830" stroke="#cdcbc7" stroke-width="1"/>
<line x1="892.2" x2="1110.3" y1="875.5" y2="875.5" stroke="#cdcbc7" stroke-width="1"/>
<line x1="892.2" x2="1110.3" y1="920.6" y2="920.6" stroke="#cdcbc7" stroke-width="1"/>
<line x1="892.2" x2="1110.3" y1="966" y2="966" stroke="#cdcbc7" stroke-width="1"/>
<linearGradient id="rgbrp0" gradientUnits="userSpaceOnUse" x1="0" y1="1011.2" x2="0" y2="1041.2"><stop offset="0" stop-color="#5fd0b6" stop-opacity="0.420"/><stop offset="0.45" stop-color="#5fd0b6" stop-opacity="0.147"/><stop offset="1" stop-color="#5fd0b6" stop-opacity="0"/></linearGradient>
<rect x="918.90" y="1011.2" width="32.5" height="30" fill="url(#rgbrp0)"/>
<linearGradient id="rgbrp1" gradientUnits="userSpaceOnUse" x1="0" y1="1011.2" x2="0" y2="1041.2"><stop offset="0" stop-color="#5fd0b6" stop-opacity="0.383"/><stop offset="0.45" stop-color="#5fd0b6" stop-opacity="0.134"/><stop offset="1" stop-color="#5fd0b6" stop-opacity="0"/></linearGradient>
<rect x="962.65" y="1011.2" width="32.5" height="30" fill="url(#rgbrp1)"/>
<linearGradient id="rgbrp2" gradientUnits="userSpaceOnUse" x1="0" y1="1011.2" x2="0" y2="1041.2"><stop offset="0" stop-color="#5fd0b6" stop-opacity="0.282"/><stop offset="0.45" stop-color="#5fd0b6" stop-opacity="0.099"/><stop offset="1" stop-color="#5fd0b6" stop-opacity="0"/></linearGradient>
<rect x="1006.40" y="1011.2" width="32.5" height="30" fill="url(#rgbrp2)"/>
<linearGradient id="rgbrp3" gradientUnits="userSpaceOnUse" x1="0" y1="1011.2" x2="0" y2="1041.2"><stop offset="0" stop-color="#5fd0b6" stop-opacity="0.237"/><stop offset="0.45" stop-color="#5fd0b6" stop-opacity="0.083"/><stop offset="1" stop-color="#5fd0b6" stop-opacity="0"/></linearGradient>
<rect x="1050.15" y="1011.2" width="32.5" height="30" fill="url(#rgbrp3)"/>
<rect x="918.90" y="837.6" width="32.5" height="173.60" fill="#27a78f"/>
<rect x="962.65" y="939" width="32.5" height="72.20" fill="#27a78f"/>
<rect x="1006.40" y="986.8" width="32.5" height="24.40" fill="#27a78f"/>
<rect x="1050.15" y="1008.5" width="32.5" height="2.70" fill="#27a78f"/>
<line x1="904.1" x2="904.1" y1="824.4" y2="1023.8" stroke="#606060" stroke-width="1.6"/>
<line x1="892.2" x2="1110.3" y1="1011.2" y2="1011.2" stroke="#606060" stroke-width="1.9"/>
<text class="tk" x="880.7" y="836.7" text-anchor="end" textLength="29.6" lengthAdjust="spacingAndGlyphs">16%</text>
<text class="tk" x="880.7" y="882.2" text-anchor="end" textLength="29.6" lengthAdjust="spacingAndGlyphs">12%</text>
<text class="tk" x="880.7" y="927.3" text-anchor="end" textLength="20.3" lengthAdjust="spacingAndGlyphs">8%</text>
<text class="tk" x="880.7" y="972.7" text-anchor="end" textLength="20.3" lengthAdjust="spacingAndGlyphs">4%</text>
<text class="tk" x="880.7" y="1017.9" text-anchor="end" textLength="20.3" lengthAdjust="spacingAndGlyphs">0%</text>
<text class="vp" x="933.9" y="832.0" text-anchor="middle" textLength="42" lengthAdjust="spacingAndGlyphs">13.4%</text>
<text class="vp" x="978.3" y="933.4" text-anchor="middle" textLength="33" lengthAdjust="spacingAndGlyphs">4.3%</text>
<text class="vp" x="1022.0" y="981.2" text-anchor="middle" textLength="33" lengthAdjust="spacingAndGlyphs">3.9%</text>
<text class="vp" x="1065.8" y="1002.9" text-anchor="middle" textLength="33" lengthAdjust="spacingAndGlyphs">2.6%</text>
<text class="ct ct2" transform="translate(943.4 1031.5) rotate(-90)" text-anchor="end" textLength="102.5" lengthAdjust="spacingAndGlyphs">Latin America</text>
<text class="ct ct2" transform="translate(987.2 1031.5) rotate(-90)" text-anchor="end" textLength="108.5" lengthAdjust="spacingAndGlyphs">North America</text>
<text class="ct ct2" transform="translate(1031.0 1031.5) rotate(-90)" text-anchor="end" textLength="37.7" lengthAdjust="spacingAndGlyphs">APAC</text>
<text class="ct ct2" transform="translate(1074.7 1031.5) rotate(-90)" text-anchor="end" textLength="42.5" lengthAdjust="spacingAndGlyphs">EMEA</text>
</g>
<text class="src" y="1262.5"><tspan x="53" textLength="364.8" lengthAdjust="spacingAndGlyphs">Source: EIIRTrend Analysis Based on Selected</tspan> <tspan x="422.6" textLength="377.6" lengthAdjust="spacingAndGlyphs">Engineering Service Providers Financial Results</tspan></text>
</svg></body></html>
